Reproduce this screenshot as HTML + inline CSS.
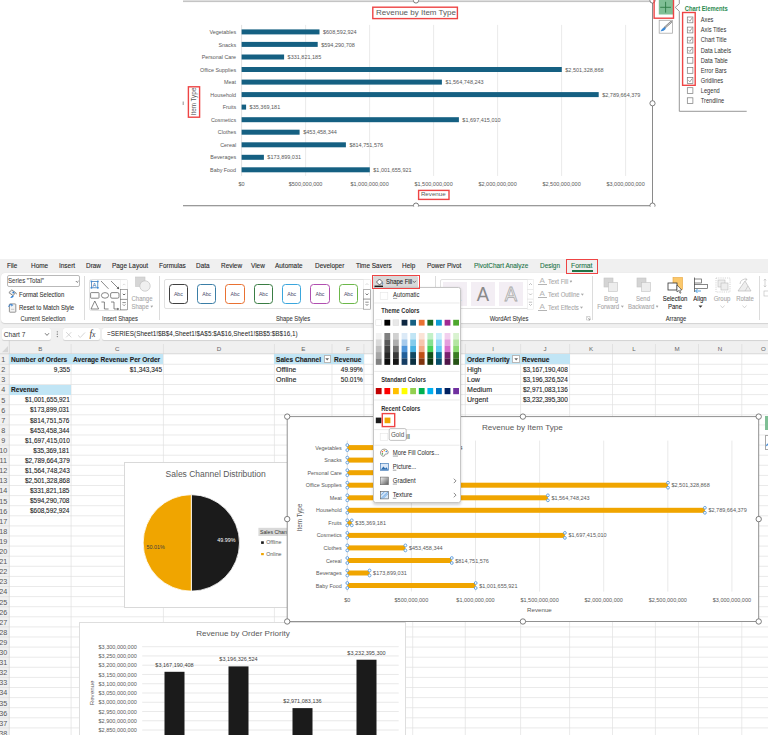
<!DOCTYPE html>
<html><head><meta charset="utf-8"><title>Excel chart formatting</title>
<style>
*{box-sizing:border-box}
html,body{margin:0;padding:0}
body{width:768px;height:735px;overflow:hidden;position:relative;background:#fff;font-family:"Liberation Sans", Arial, sans-serif;color:#262626}
.a{position:absolute;white-space:nowrap}
svg text{font-family:"Liberation Sans", Arial, sans-serif}
.cl{font-size:5.5px;fill:#595959}
.tab{font-size:7.3px;line-height:8px;color:#262626;-webkit-text-stroke:0.1px currentColor;transform:scaleX(0.88);transform-origin:0 50%}
.rb{font-size:6.8px;line-height:7px;color:#333;-webkit-text-stroke:0.08px currentColor;transform:scaleX(0.88);transform-origin:0 50%}
.ctr{transform-origin:50% 50%}
.gl{font-size:6.6px;line-height:7px;color:#383838;-webkit-text-stroke:0.08px currentColor;transform:scaleX(0.88);transform-origin:50% 50%}
.dis{color:#a6a6a6}
.chev{display:inline-block;width:2.1px;height:2.1px;border-right:0.7px solid currentColor;border-bottom:0.7px solid currentColor;transform:rotate(45deg);margin-left:2.2px;vertical-align:1.8px}
.cell{font-size:7.6px;line-height:10.1px;color:#1e1e1e;padding-top:0.8px;-webkit-text-stroke:0.12px #1e1e1e}
.mi{font-size:6.6px;fill:#262626}
.mh{font-size:6.4px;font-weight:bold;fill:#303030}
</style></head><body>

<svg class="a" style="left:0;top:0" width="768" height="259" viewBox="0 0 768 259">
<line x1="305.6" y1="24.9" x2="305.6" y2="175.9" stroke="#e3e3e3" stroke-width="0.8"/>
<line x1="369.6" y1="24.9" x2="369.6" y2="175.9" stroke="#e3e3e3" stroke-width="0.8"/>
<line x1="433.6" y1="24.9" x2="433.6" y2="175.9" stroke="#e3e3e3" stroke-width="0.8"/>
<line x1="497.6" y1="24.9" x2="497.6" y2="175.9" stroke="#e3e3e3" stroke-width="0.8"/>
<line x1="561.6" y1="24.9" x2="561.6" y2="175.9" stroke="#e3e3e3" stroke-width="0.8"/>
<line x1="625.6" y1="24.9" x2="625.6" y2="175.9" stroke="#e3e3e3" stroke-width="0.8"/>
<line x1="241.6" y1="24.9" x2="241.6" y2="175.9" stroke="#d9d9d9" stroke-width="0.8"/>
<rect x="241.6" y="29.4" width="77.9" height="5" fill="#156082"/>
<text transform="scale(0.9,1)" x="262.33" y="34.00" text-anchor="end" style="font-size:6px;fill:#595959">Vegetables</text>
<text transform="scale(0.92,1)" x="351.09" y="34.00" style="font-size:6px;fill:#595959">$608,592,924</text>
<rect x="241.6" y="41.9" width="76.1" height="5" fill="#156082"/>
<text transform="scale(0.9,1)" x="262.33" y="46.54" text-anchor="end" style="font-size:6px;fill:#595959">Snacks</text>
<text transform="scale(0.92,1)" x="349.10" y="46.54" style="font-size:6px;fill:#595959">$594,290,708</text>
<rect x="241.6" y="54.5" width="42.5" height="5" fill="#156082"/>
<text transform="scale(0.9,1)" x="262.33" y="59.08" text-anchor="end" style="font-size:6px;fill:#595959">Personal Care</text>
<text transform="scale(0.92,1)" x="312.58" y="59.08" style="font-size:6px;fill:#595959">$331,821,185</text>
<rect x="241.6" y="67.0" width="320.2" height="5" fill="#156082"/>
<text transform="scale(0.9,1)" x="262.33" y="71.62" text-anchor="end" style="font-size:6px;fill:#595959">Office Supplies</text>
<text transform="scale(0.92,1)" x="614.42" y="71.62" style="font-size:6px;fill:#595959">$2,501,328,868</text>
<rect x="241.6" y="79.6" width="200.3" height="5" fill="#156082"/>
<text transform="scale(0.9,1)" x="262.33" y="84.16" text-anchor="end" style="font-size:6px;fill:#595959">Meat</text>
<text transform="scale(0.92,1)" x="484.12" y="84.16" style="font-size:6px;fill:#595959">$1,564,748,243</text>
<rect x="241.6" y="92.1" width="357.1" height="5" fill="#156082"/>
<text transform="scale(0.9,1)" x="262.33" y="96.70" text-anchor="end" style="font-size:6px;fill:#595959">Household</text>
<text transform="scale(0.92,1)" x="654.54" y="96.70" style="font-size:6px;fill:#595959">$2,789,664,379</text>
<rect x="241.6" y="104.6" width="4.5" height="5" fill="#156082"/>
<text transform="scale(0.9,1)" x="262.33" y="109.24" text-anchor="end" style="font-size:6px;fill:#595959">Fruits</text>
<text transform="scale(0.92,1)" x="271.33" y="109.24" style="font-size:6px;fill:#595959">$35,369,181</text>
<rect x="241.6" y="117.2" width="217.3" height="5" fill="#156082"/>
<text transform="scale(0.9,1)" x="262.33" y="121.78" text-anchor="end" style="font-size:6px;fill:#595959">Cosmetics</text>
<text transform="scale(0.92,1)" x="502.58" y="121.78" style="font-size:6px;fill:#595959">$1,697,415,010</text>
<rect x="241.6" y="129.7" width="58.0" height="5" fill="#156082"/>
<text transform="scale(0.9,1)" x="262.33" y="134.32" text-anchor="end" style="font-size:6px;fill:#595959">Clothes</text>
<text transform="scale(0.92,1)" x="329.50" y="134.32" style="font-size:6px;fill:#595959">$453,458,344</text>
<rect x="241.6" y="142.3" width="104.3" height="5" fill="#156082"/>
<text transform="scale(0.9,1)" x="262.33" y="146.86" text-anchor="end" style="font-size:6px;fill:#595959">Cereal</text>
<text transform="scale(0.92,1)" x="379.77" y="146.86" style="font-size:6px;fill:#595959">$814,751,576</text>
<rect x="241.6" y="154.8" width="22.3" height="5" fill="#156082"/>
<text transform="scale(0.9,1)" x="262.33" y="159.40" text-anchor="end" style="font-size:6px;fill:#595959">Beverages</text>
<text transform="scale(0.92,1)" x="290.61" y="159.40" style="font-size:6px;fill:#595959">$173,899,031</text>
<rect x="241.6" y="167.3" width="128.2" height="5" fill="#156082"/>
<text transform="scale(0.9,1)" x="262.33" y="171.94" text-anchor="end" style="font-size:6px;fill:#595959">Baby Food</text>
<text transform="scale(0.92,1)" x="405.77" y="171.94" style="font-size:6px;fill:#595959">$1,001,655,921</text>
<text transform="scale(0.92,1)" x="262.61" y="185.90" text-anchor="middle" style="font-size:6px;fill:#595959">$0</text>
<text transform="scale(0.92,1)" x="332.17" y="185.90" text-anchor="middle" style="font-size:6px;fill:#595959">$500,000,000</text>
<text transform="scale(0.92,1)" x="401.74" y="185.90" text-anchor="middle" style="font-size:6px;fill:#595959">$1,000,000,000</text>
<text transform="scale(0.92,1)" x="471.30" y="185.90" text-anchor="middle" style="font-size:6px;fill:#595959">$1,500,000,000</text>
<text transform="scale(0.92,1)" x="540.87" y="185.90" text-anchor="middle" style="font-size:6px;fill:#595959">$2,000,000,000</text>
<text transform="scale(0.92,1)" x="610.43" y="185.90" text-anchor="middle" style="font-size:6px;fill:#595959">$2,500,000,000</text>
<text transform="scale(0.92,1)" x="680.00" y="185.90" text-anchor="middle" style="font-size:6px;fill:#595959">$3,000,000,000</text>
<rect x="183" y="0" width="469.5" height="1.3" fill="#dedede"/>
<line x1="183" y1="1.6" x2="652.5" y2="1.6" stroke="#a8a8a8" stroke-width="0.7"/>
<line x1="652.5" y1="0" x2="652.5" y2="206" stroke="#8a8a8a" stroke-width="1"/>
<line x1="183" y1="205.8" x2="652.5" y2="205.8" stroke="#9a9a9a" stroke-width="1.6"/>
<line x1="183.2" y1="101.5" x2="183.2" y2="105" stroke="#777" stroke-width="0.8"/>
<circle cx="416" cy="0.5" r="2.6" fill="#fff" stroke="#6e6e6e" stroke-width="0.9"/>
<circle cx="652.5" cy="0.5" r="2.6" fill="#fff" stroke="#6e6e6e" stroke-width="0.9"/>
<circle cx="652.5" cy="103.3" r="2.6" fill="#fff" stroke="#6e6e6e" stroke-width="0.9"/>
<circle cx="416" cy="205.6" r="2.6" fill="#fff" stroke="#6e6e6e" stroke-width="0.9"/>
<circle cx="652.5" cy="205.6" r="2.6" fill="#fff" stroke="#6e6e6e" stroke-width="0.9"/>
<rect x="0" y="206.6" width="768" height="53" fill="#fff"/>
<text x="416" y="15.2" text-anchor="middle" style="font-size:8px;fill:#595959">Revenue by Item Type</text>
<rect x="372.8" y="7.2" width="84.6" height="11.4" fill="none" stroke="#ee4444" stroke-width="1.4"/>
<text x="433.3" y="196.4" text-anchor="middle" style="font-size:6.2px;fill:#595959">Revenue</text>
<rect x="418.6" y="190.4" width="30.4" height="9" fill="none" stroke="#ee4444" stroke-width="1.4"/>
<text transform="translate(196.2,101.6) rotate(-90)" text-anchor="middle" style="font-size:6.3px;fill:#595959">Item Type</text>
<rect x="188.4" y="86.8" width="11.2" height="30.4" fill="none" stroke="#ee4444" stroke-width="1.4"/>
</svg>
<svg class="a" style="left:640px;top:0" width="128" height="120" viewBox="640 0 128 120">
<rect x="658.8" y="-1" width="14.3" height="15.5" fill="#7fbf95"/>
<line x1="665.6" y1="1.8" x2="665.6" y2="12.6" stroke="#2d7a45" stroke-width="0.9"/>
<line x1="660.2" y1="7.3" x2="671" y2="7.3" stroke="#2d7a45" stroke-width="0.9"/>
<rect x="654.1" y="-1" width="19.4" height="19.2" fill="none" stroke="#ee4444" stroke-width="1.4"/>
<rect x="659.2" y="20.3" width="13.2" height="12.9" fill="#fff" stroke="#a8a8a8" stroke-width="0.8"/>
<line x1="671" y1="22" x2="664.6" y2="27.8" stroke="#7a7a7a" stroke-width="1.9" stroke-linecap="round"/>
<line x1="670.8" y1="22.2" x2="664.8" y2="27.6" stroke="#f4f4f4" stroke-width="0.7"/>
<path d="M665.4 27.2 Q662.6 27.4 661.6 29.6 Q661 30.8 660.4 31.2 Q663.6 31.6 665.2 29.6 Q666 28.6 665.4 27.2 Z" fill="#3c8ad8"/>
<path d="M679.3 -1 V3.8 L675.2 7.4 L679.3 11.2 V111.3 H746.7" fill="none" stroke="#8c8c8c" stroke-width="0.9"/>
<text transform="scale(0.93,1)" x="736.34" y="10.8" style="font-size:6.3px;font-weight:bold;fill:#2b8a4e">Chart Elements</text>
<rect x="687.3" y="17.0" width="5.6" height="5.8" fill="#fff" stroke="#7a7a7a" stroke-width="0.7"/>
<path d="M688.4 19.6 L689.9 21.2 L692 18.1" fill="none" stroke="#777" stroke-width="0.7"/>
<text transform="scale(0.86,1)" x="814.88" y="22.30" style="font-size:6.6px;fill:#333">Axes</text>
<rect x="687.3" y="27.1" width="5.6" height="5.8" fill="#fff" stroke="#7a7a7a" stroke-width="0.7"/>
<path d="M688.4 29.7 L689.9 31.3 L692 28.2" fill="none" stroke="#777" stroke-width="0.7"/>
<text transform="scale(0.86,1)" x="814.88" y="32.40" style="font-size:6.6px;fill:#333">Axis Titles</text>
<rect x="687.3" y="37.2" width="5.6" height="5.8" fill="#fff" stroke="#7a7a7a" stroke-width="0.7"/>
<path d="M688.4 39.8 L689.9 41.4 L692 38.3" fill="none" stroke="#777" stroke-width="0.7"/>
<text transform="scale(0.86,1)" x="814.88" y="42.50" style="font-size:6.6px;fill:#333">Chart Title</text>
<rect x="687.3" y="47.3" width="5.6" height="5.8" fill="#fff" stroke="#7a7a7a" stroke-width="0.7"/>
<path d="M688.4 49.9 L689.9 51.5 L692 48.4" fill="none" stroke="#777" stroke-width="0.7"/>
<text transform="scale(0.86,1)" x="814.88" y="52.60" style="font-size:6.6px;fill:#333">Data Labels</text>
<rect x="687.3" y="57.4" width="5.6" height="5.8" fill="#fff" stroke="#7a7a7a" stroke-width="0.7"/>
<text transform="scale(0.86,1)" x="814.88" y="62.70" style="font-size:6.6px;fill:#333">Data Table</text>
<rect x="687.3" y="67.5" width="5.6" height="5.8" fill="#fff" stroke="#7a7a7a" stroke-width="0.7"/>
<text transform="scale(0.86,1)" x="814.88" y="72.80" style="font-size:6.6px;fill:#333">Error Bars</text>
<rect x="687.3" y="77.6" width="5.6" height="5.8" fill="#fff" stroke="#7a7a7a" stroke-width="0.7"/>
<path d="M688.4 80.2 L689.9 81.8 L692 78.7" fill="none" stroke="#777" stroke-width="0.7"/>
<text transform="scale(0.86,1)" x="814.88" y="82.90" style="font-size:6.6px;fill:#333">Gridlines</text>
<rect x="687.3" y="87.7" width="5.6" height="5.8" fill="#fff" stroke="#7a7a7a" stroke-width="0.7"/>
<text transform="scale(0.86,1)" x="814.88" y="93.00" style="font-size:6.6px;fill:#333">Legend</text>
<rect x="687.3" y="97.8" width="5.6" height="5.8" fill="#fff" stroke="#7a7a7a" stroke-width="0.7"/>
<text transform="scale(0.86,1)" x="814.88" y="103.10" style="font-size:6.6px;fill:#333">Trendline</text>
<rect x="682.6" y="12.5" width="12.6" height="72.8" fill="none" stroke="#ee4444" stroke-width="1.4"/>
</svg>
<div class="a" style="left:0;top:259px;width:768px;height:476px;background:#f0f0f0"></div>
<div class="a tab" style="left:7.3px;top:262px">File</div>
<div class="a tab" style="left:30.7px;top:262px">Home</div>
<div class="a tab" style="left:58.9px;top:262px">Insert</div>
<div class="a tab" style="left:86px;top:262px">Draw</div>
<div class="a tab" style="left:112px;top:262px">Page Layout</div>
<div class="a tab" style="left:159.4px;top:262px">Formulas</div>
<div class="a tab" style="left:196.3px;top:262px">Data</div>
<div class="a tab" style="left:220.6px;top:262px">Review</div>
<div class="a tab" style="left:251px;top:262px">View</div>
<div class="a tab" style="left:275.3px;top:262px">Automate</div>
<div class="a tab" style="left:315.3px;top:262px">Developer</div>
<div class="a tab" style="left:356px;top:262px">Time Savers</div>
<div class="a tab" style="left:402.3px;top:262px">Help</div>
<div class="a tab" style="left:426.6px;top:262px">Power Pivot</div>
<div class="a tab" style="left:474px;top:262px;color:#217346">PivotChart Analyze</div>
<div class="a tab" style="left:539.8px;top:262px;color:#217346">Design</div>
<div class="a tab" style="left:571px;top:262px;color:#217346;font-size:7.7px">Format</div>
<div class="a" style="left:571.5px;top:270.3px;width:21px;height:1.3px;background:#217346"></div>
<div class="a" style="left:1.2px;top:273px;width:780px;height:49.8px;background:#fff;border-radius:4px;box-shadow:0 0.5px 1px rgba(0,0,0,0.12)"></div>
<div class="a" style="left:83.5px;top:276px;width:0.8px;height:44px;background:#dcdcdc"></div>
<div class="a" style="left:158.6px;top:276px;width:0.8px;height:44px;background:#dcdcdc"></div>
<div class="a" style="left:434.5px;top:276px;width:0.8px;height:44px;background:#dcdcdc"></div>
<div class="a" style="left:591.8px;top:276px;width:0.8px;height:44px;background:#dcdcdc"></div>
<div class="a" style="left:759.2px;top:276px;width:0.8px;height:44px;background:#dcdcdc"></div>
<div class="a gl" style="left:3.3999999999999986px;width:80px;text-align:center;top:315.2px">Current Selection</div>
<div class="a gl" style="left:80.3px;width:80px;text-align:center;top:315.2px">Insert Shapes</div>
<div class="a gl" style="left:252.89999999999998px;width:80px;text-align:center;top:315.2px">Shape Styles</div>
<div class="a gl" style="left:468.8px;width:80px;text-align:center;top:315.2px">WordArt Styles</div>
<div class="a gl" style="left:635.8px;width:80px;text-align:center;top:315.2px">Arrange</div>
<div class="a" style="left:6.8px;top:275.4px;width:72.9px;height:11.6px;border:0.8px solid #b9b9b9;border-radius:2px;background:#fff"></div>
<div class="a rb" style="left:8px;top:277.4px;color:#444;font-size:6.9px">Series "Total"</div>
<svg class="a" style="left:74.8px;top:279.6px" width="5" height="4"><path d="M0.8 1 L2.2 2.4 L3.6 1" fill="none" stroke="#444" stroke-width="0.7"/></svg>
<svg class="a" style="left:8px;top:289px" width="10" height="10" viewBox="0 0 10 10"><path d="M0.9 3.6 L3.8 0.9 L7.6 3.6 L5 6.6 Z" fill="#eee" stroke="#7a7a7a" stroke-width="0.9"/><path d="M7.4 3.8 L9 5.2" stroke="#8a8a8a" stroke-width="0.9"/><circle cx="5.4" cy="3.5" r="1" fill="#2b7cd3"/><path d="M2.2 8.9 Q3.6 6.4 6 6.5 Q5.6 9.3 2.2 8.9 Z" fill="#2b7cd3"/></svg>
<div class="a rb" style="left:18.6px;top:291.4px">Format Selection</div>
<svg class="a" style="left:8px;top:302.5px" width="9" height="10" viewBox="0 0 9 10"><rect x="1.4" y="0.9" width="6.4" height="8.3" rx="0.6" fill="#f3f3f3" stroke="#7a7a7a" stroke-width="0.8"/><path d="M3 6.3 H6.2" stroke="#999" stroke-width="0.5"/><path d="M0.7 3.8 A2.1 2.1 0 0 1 4.2 2.2" fill="none" stroke="#2b7cd3" stroke-width="1"/><path d="M3.4 0.9 L4.6 2.3 L3 3" fill="none" stroke="#2b7cd3" stroke-width="0.8"/></svg>
<div class="a rb" style="left:18.6px;top:304px">Reset to Match Style</div>
<div class="a" style="left:88.6px;top:279.1px;width:39.4px;height:31.6px;border:0.7px solid #e1e1e1;border-radius:2.5px;background:#fff"></div>
<svg class="a" style="left:89px;top:279px" width="40" height="32" viewBox="0 0 40 32">
<rect x="2.4" y="2.4" width="6.4" height="6.4" fill="none" stroke="#2b6cb0" stroke-width="0.7"/>
<text x="3.5" y="7.8" style="font-size:5.6px;fill:#2b6cb0">A</text>
<rect x="1.6" y="1.6" width="1.6" height="1.6" fill="#3b8ad8"/><rect x="8" y="1.6" width="1.6" height="1.6" fill="#3b8ad8"/><rect x="1.6" y="8" width="1.6" height="1.6" fill="#3b8ad8"/><rect x="8" y="8" width="1.6" height="1.6" fill="#3b8ad8"/>
<line x1="12" y1="2" x2="19.5" y2="9.8" stroke="#555" stroke-width="0.7"/>
<line x1="22" y1="2" x2="29.6" y2="9.6" stroke="#555" stroke-width="0.7"/><path d="M30.2 10.2 L27.6 9.6 L29.6 7.6 Z" fill="#555"/>
<rect x="1.6" y="13.6" width="8.4" height="5.6" rx="0.6" fill="none" stroke="#555" stroke-width="0.7"/>
<ellipse cx="16" cy="16.4" rx="3.6" ry="2.8" fill="none" stroke="#555" stroke-width="0.7"/>
<rect x="21.6" y="13.6" width="8.4" height="5.6" rx="1.4" fill="none" stroke="#555" stroke-width="0.7"/>
<path d="M2 30 L5.8 22 L9.6 30 Z" fill="none" stroke="#555" stroke-width="0.7"/>
<path d="M12.4 23 H15.4 V30 H19.6" fill="none" stroke="#555" stroke-width="0.7"/>
<path d="M22 23 H25 V30 H29" fill="none" stroke="#555" stroke-width="0.7"/><path d="M30.4 30 L28.4 28.8 V31.2 Z" fill="#555"/>
<rect x="31.6" y="0.8" width="7" height="9.6" fill="#fff" stroke="#e6e6e6" stroke-width="0.5"/>
<path d="M33.8 6.2 L35.1 4.9 L36.4 6.2" fill="none" stroke="#c8c8c8" stroke-width="0.6"/>
<rect x="31.6" y="10.6" width="7" height="9.6" fill="#fff" stroke="#777" stroke-width="0.6"/>
<path d="M33.9 14.8 L35.1 16 L36.3 14.8" fill="none" stroke="#333" stroke-width="0.8"/>
<rect x="31.6" y="20.4" width="7" height="10.4" fill="#fff" stroke="#777" stroke-width="0.6"/>
<path d="M33.4 23.6 H36.8 M33.8 25.4 L35.1 26.7 L36.4 25.4" fill="none" stroke="#444" stroke-width="0.6"/>
</svg>
<svg class="a" style="left:134px;top:276px" width="18" height="17" viewBox="0 0 18 17"><rect x="1.5" y="1" width="9.5" height="9.5" fill="#d6d6d6" stroke="#c6c6c6" stroke-width="0.6"/><circle cx="11" cy="10" r="5.2" fill="#f0f0f0" stroke="#c2c2c2" stroke-width="0.7"/></svg>
<div class="a rb dis ctr" style="left:122px;width:40px;text-align:center;top:294.6px">Change</div>
<div class="a rb dis ctr" style="left:122px;width:40px;text-align:center;top:302.6px">Shape<span class="chev"></span></div>
<div class="a" style="left:163.7px;top:279.3px;width:207px;height:30px;border:0.7px solid #e1e1e1;border-radius:2px;background:#fff"></div>
<div class="a" style="left:168.6px;top:284.4px;width:19.6px;height:19.2px;border:1.8px solid #404040;border-radius:3.5px;background:#fff"></div>
<div class="a" style="left:168.6px;width:19.6px;text-align:center;top:290.8px;font-size:5.2px;line-height:6px;color:#4a4a6a">Abc</div>
<div class="a" style="left:196.9px;top:284.4px;width:19.6px;height:19.2px;border:1.8px solid #3b7ea6;border-radius:3.5px;background:#fff"></div>
<div class="a" style="left:196.9px;width:19.6px;text-align:center;top:290.8px;font-size:5.2px;line-height:6px;color:#4a4a6a">Abc</div>
<div class="a" style="left:225.3px;top:284.4px;width:19.6px;height:19.2px;border:1.8px solid #e97132;border-radius:3.5px;background:#fff"></div>
<div class="a" style="left:225.3px;width:19.6px;text-align:center;top:290.8px;font-size:5.2px;line-height:6px;color:#4a4a6a">Abc</div>
<div class="a" style="left:253.6px;top:284.4px;width:19.6px;height:19.2px;border:1.8px solid #3a7d44;border-radius:3.5px;background:#fff"></div>
<div class="a" style="left:253.6px;width:19.6px;text-align:center;top:290.8px;font-size:5.2px;line-height:6px;color:#4a4a6a">Abc</div>
<div class="a" style="left:281.9px;top:284.4px;width:19.6px;height:19.2px;border:1.8px solid #3aa6dd;border-radius:3.5px;background:#fff"></div>
<div class="a" style="left:281.9px;width:19.6px;text-align:center;top:290.8px;font-size:5.2px;line-height:6px;color:#4a4a6a">Abc</div>
<div class="a" style="left:310.2px;top:284.4px;width:19.6px;height:19.2px;border:1.8px solid #b14fb0;border-radius:3.5px;background:#fff"></div>
<div class="a" style="left:310.2px;width:19.6px;text-align:center;top:290.8px;font-size:5.2px;line-height:6px;color:#4a4a6a">Abc</div>
<div class="a" style="left:338.6px;top:284.4px;width:19.6px;height:19.2px;border:1.8px solid #6cb74a;border-radius:3.5px;background:#fff"></div>
<div class="a" style="left:338.6px;width:19.6px;text-align:center;top:290.8px;font-size:5.2px;line-height:6px;color:#4a4a6a">Abc</div>
<svg class="a" style="left:362.5px;top:279px" width="9" height="32" viewBox="0 0 9 32">
<rect x="0.5" y="0.5" width="7" height="10" fill="#fff" stroke="#e3e3e3" stroke-width="0.5"/>
<path d="M2.5 6 L4 4.5 L5.5 6" fill="none" stroke="#c4c4c4" stroke-width="0.6"/>
<rect x="0.5" y="10.7" width="7" height="9.3" fill="#fff" stroke="#888" stroke-width="0.6"/>
<path d="M2.6 14.5 L4 16 L5.4 14.5" fill="none" stroke="#444" stroke-width="0.7"/>
<rect x="0.5" y="20.2" width="7" height="10" fill="#fff" stroke="#888" stroke-width="0.6"/>
<path d="M2.3 23.2 H5.7 M2.6 25 L4 26.5 L5.4 25" fill="none" stroke="#444" stroke-width="0.6"/>
</svg>
<div class="a" style="left:373px;top:276px;width:45.2px;height:11.6px;background:#d9d9d9;border-radius:1.5px"></div>
<svg class="a" style="left:374px;top:276.5px" width="10" height="11" viewBox="0 0 10 11"><path d="M2.5 5 L5.5 2 L8.5 5 L5.5 8 Z" fill="#fff" stroke="#333" stroke-width="0.7"/><path d="M8.2 5.5 Q9.2 7 8.4 7.6" fill="none" stroke="#2b6cb0" stroke-width="0.8"/><rect x="0.5" y="8.6" width="8.5" height="2" fill="#1a1a1a"/></svg>
<div class="a rb" style="left:385.5px;top:278.2px;color:#222;font-size:6.7px">Shape Fill</div>
<svg class="a" style="left:412px;top:280px" width="5" height="4"><path d="M0.6 0.8 L2.3 2.5 L4 0.8" fill="none" stroke="#444" stroke-width="0.7"/></svg>
<div class="a" style="left:439.5px;top:279.3px;width:93.5px;height:30px;border:0.7px solid #e1e1e1;border-radius:2px;background:#fff"></div>
<div class="a" style="left:443px;top:281.7px;width:23.8px;height:24.1px;background:#f3eef4"></div>
<div class="a" style="left:443px;width:23.8px;text-align:center;top:281.6px;font-size:21px;line-height:24px;color:#8a8a8a;transform:scaleX(0.88)">A</div>
<div class="a" style="left:471px;top:281.7px;width:23.8px;height:24.1px;background:#f3eef4"></div>
<div class="a" style="left:471px;width:23.8px;text-align:center;top:281.6px;font-size:21px;line-height:24px;color:#8a8a8a;transform:scaleX(0.88)">A</div>
<div class="a" style="left:499px;top:281.7px;width:23.8px;height:24.1px;background:#f3eef4"></div>
<div class="a" style="left:499px;width:23.8px;text-align:center;top:281.6px;font-size:21px;line-height:24px;color:#ececec;-webkit-text-stroke:0.8px #a8a8a8;transform:scaleX(0.88)">A</div>
<svg class="a" style="left:526.5px;top:279px" width="8" height="32" viewBox="0 0 8 32">
<rect x="0.5" y="0.5" width="6" height="10" fill="#fff" stroke="#e3e3e3" stroke-width="0.5"/>
<path d="M2 6 L3.5 4.5 L5 6" fill="none" stroke="#999" stroke-width="0.6"/>
<rect x="0.5" y="10.7" width="6" height="9.3" fill="#fff" stroke="#e3e3e3" stroke-width="0.5"/>
<path d="M2 14.5 L3.5 16 L5 14.5" fill="none" stroke="#999" stroke-width="0.6"/>
<rect x="0.5" y="20.2" width="6" height="10" fill="#fff" stroke="#e3e3e3" stroke-width="0.5"/>
<path d="M1.8 23.2 H5.2 M2 25 L3.5 26.5 L5 25" fill="none" stroke="#999" stroke-width="0.6"/>
</svg>
<div class="a" style="left:538px;top:276.4px;width:8.5px;text-align:center;font-size:8px;line-height:9px;color:#b4b4b4">A</div>
<div class="a" style="left:538px;top:284.0px;width:8.5px;height:1.3px;background:#b4b4b4"></div>
<div class="a rb dis" style="left:548.4px;top:278.1px">Text Fill<span class="chev"></span></div>
<div class="a" style="left:538px;top:289.4px;width:8.5px;text-align:center;font-size:8px;line-height:9px;color:#b4b4b4">A</div>
<div class="a" style="left:538px;top:297.0px;width:8.5px;height:1.3px;background:#b4b4b4"></div>
<div class="a rb dis" style="left:548.4px;top:291.1px">Text Outline<span class="chev"></span></div>
<div class="a" style="left:538px;top:302.4px;width:8.5px;text-align:center;font-size:8px;line-height:9px;color:#b4b4b4">A</div>
<div class="a" style="left:538px;top:310.0px;width:8.5px;height:1.3px;background:#b4b4b4"></div>
<div class="a rb dis" style="left:548.4px;top:304.1px">Text Effects<span class="chev"></span></div>
<svg class="a" style="left:585.5px;top:316px" width="5" height="5"><path d="M0.5 0.5 H4 V4 H0.5 Z" fill="none" stroke="#aaa" stroke-width="0.5"/><path d="M1.5 1.5 L4 4 M2.5 4 H4 V2.5" fill="none" stroke="#888" stroke-width="0.5"/></svg>
<svg class="a" style="left:602.5px;top:277px" width="16" height="16" viewBox="0 0 16 16"><rect x="1" y="1" width="9" height="9" fill="#d4d4d4" stroke="#c3c3c3" stroke-width="0.6"/><rect x="5.5" y="5.5" width="9" height="9" fill="#ededed" stroke="#c3c3c3" stroke-width="0.6"/></svg>
<svg class="a" style="left:635.5px;top:277px" width="16" height="16" viewBox="0 0 16 16"><rect x="1" y="1" width="9" height="9" fill="#d4d4d4" stroke="#c3c3c3" stroke-width="0.6"/><rect x="5.5" y="5.5" width="9" height="9" fill="#ededed" stroke="#c3c3c3" stroke-width="0.6"/></svg>
<div class="a rb dis ctr" style="left:590.9px;width:40px;text-align:center;top:294.8px">Bring</div>
<div class="a rb dis ctr" style="left:590.4px;width:40px;text-align:center;top:302.7px">Forward<span class="chev"></span></div>
<div class="a rb dis ctr" style="left:623.4px;width:40px;text-align:center;top:294.8px">Send</div>
<div class="a rb dis ctr" style="left:623.4px;width:40px;text-align:center;top:302.7px">Backward<span class="chev"></span></div>
<svg class="a" style="left:666.5px;top:276.5px" width="17" height="17" viewBox="0 0 17 17"><rect x="6" y="0.5" width="9.5" height="12" fill="#fbc86b" stroke="#e8a33a" stroke-width="0.6"/><rect x="1" y="6" width="9" height="7" fill="#fff" stroke="#333" stroke-width="0.8"/><path d="M10 8 L10 15 L11.6 13.6 L13 16.3 L14 15.8 L12.7 13.2 L14.8 13 Z" fill="#fff" stroke="#333" stroke-width="0.6"/></svg>
<div class="a rb ctr" style="left:654.7px;width:40px;text-align:center;top:294.8px;color:#222">Selection</div>
<div class="a rb ctr" style="left:654.7px;width:40px;text-align:center;top:302.7px;color:#222">Pane</div>
<svg class="a" style="left:692.5px;top:276.5px" width="17" height="17" viewBox="0 0 17 17"><line x1="1.5" y1="0.5" x2="1.5" y2="15" stroke="#555" stroke-width="0.8"/><rect x="1.5" y="2" width="7" height="4" fill="#fff" stroke="#555" stroke-width="0.7"/><rect x="1.5" y="7.5" width="13" height="4" fill="#fff" stroke="#555" stroke-width="0.7"/><path d="M8 14 H2.5 M4.5 12 L2.5 14 L4.5 16" fill="none" stroke="#2b8ad8" stroke-width="0.8"/></svg>
<div class="a rb ctr" style="left:680.2px;width:40px;text-align:center;top:294.8px;color:#222">Align</div>
<svg class="a" style="left:698px;top:304.5px" width="5" height="4"><path d="M0.5 0.5 L2.5 2.8 L4.5 0.5 Z" fill="#333"/></svg>
<svg class="a" style="left:714.5px;top:276.5px" width="17" height="17" viewBox="0 0 17 17"><rect x="1" y="1" width="14" height="14" fill="none" stroke="#bbb" stroke-width="0.6" stroke-dasharray="1.2 1"/><rect x="3" y="3" width="7" height="7" fill="#eee" stroke="#bbb" stroke-width="0.6"/><rect x="6" y="6" width="7" height="7" fill="#eee" stroke="#bbb" stroke-width="0.6"/></svg>
<div class="a rb dis ctr" style="left:702.3px;width:40px;text-align:center;top:294.8px">Group</div>
<svg class="a" style="left:720px;top:304.5px" width="5" height="4"><path d="M0.5 0.5 L2.5 2.8 L4.5 0.5" fill="none" stroke="#bbb" stroke-width="0.6"/></svg>
<svg class="a" style="left:736px;top:276.5px" width="17" height="17" viewBox="0 0 17 17"><path d="M2 14 L9 4 L15 14 Z" fill="#eee" stroke="#bbb" stroke-width="0.7"/><path d="M9 14 L12 9" stroke="#bbb" stroke-width="0.6"/><path d="M4 7 A5 5 0 0 1 11 2.5 M11 2.5 L9.5 1.3 M11 2.5 L9.5 4" fill="none" stroke="#bbb" stroke-width="0.7"/></svg>
<div class="a rb dis ctr" style="left:724.8px;width:40px;text-align:center;top:294.8px">Rotate</div>
<svg class="a" style="left:742.3px;top:304.5px" width="5" height="4"><path d="M0.5 0.5 L2.5 2.8 L4.5 0.5" fill="none" stroke="#bbb" stroke-width="0.6"/></svg>
<svg class="a" style="left:763px;top:278px" width="6" height="20" viewBox="0 0 6 20"><path d="M2 1 V9 M0.8 2.5 L2 1 L3.2 2.5 M0.8 7.5 L2 9 L3.2 7.5" fill="none" stroke="#bbb" stroke-width="0.6"/><rect x="1" y="13" width="5" height="5" fill="none" stroke="#bbb" stroke-width="0.6"/></svg>
<div class="a" style="left:1.7px;top:328.4px;width:49.3px;height:11.5px;background:#fff;border-radius:2px;box-shadow:0 0.4px 0.8px rgba(0,0,0,0.12)"></div>
<div class="a" style="left:3.8px;top:330.8px;font-size:6.6px;line-height:8px;color:#333">Chart 7</div>
<svg class="a" style="left:43.5px;top:332px" width="6" height="5"><path d="M1 1.2 L3 3.4 L5 1.2" fill="none" stroke="#555" stroke-width="0.8"/></svg>
<svg class="a" style="left:56px;top:330px" width="3" height="9"><circle cx="1.3" cy="1.8" r="0.6" fill="#666"/><circle cx="1.3" cy="4.2" r="0.6" fill="#666"/><circle cx="1.3" cy="6.6" r="0.6" fill="#666"/></svg>
<div class="a" style="left:62.5px;top:328.4px;width:37.1px;height:11.5px;background:#fff;border-radius:2px;box-shadow:0 0.4px 0.8px rgba(0,0,0,0.12)"></div>
<svg class="a" style="left:65px;top:330.5px" width="8" height="8"><path d="M1.2 1.2 L6.3 6.3 M6.3 1.2 L1.2 6.3" stroke="#c4c4c4" stroke-width="0.7"/></svg>
<svg class="a" style="left:76.5px;top:330.5px" width="9" height="8"><path d="M1 4.3 L3.3 6.5 L8 1.5" fill="none" stroke="#c4c4c4" stroke-width="0.7"/></svg>
<div class="a" style="left:89.6px;top:328.6px;font-family:'Liberation Serif',serif;font-style:italic;font-size:9.4px;line-height:10px;color:#333;letter-spacing:-0.3px">f<span style="font-size:7.6px">x</span></div>
<div class="a" style="left:102px;top:328.4px;width:680px;height:11.5px;background:#fff;border-radius:2px;box-shadow:0 0.4px 0.8px rgba(0,0,0,0.12)"></div>
<div class="a" style="left:107.3px;top:330.4px;font-size:7.3px;line-height:8px;color:#222;transform:scaleX(0.871);transform-origin:0 50%">=SERIES(Sheet1!$B$4,Sheet1!$A$5:$A$16,Sheet1!$B$5:$B$16,1)</div>
<div class="a" style="left:9.3px;top:354.2px;width:760px;height:380.8px;background:#fff"></div>
<svg class="a" style="left:0;top:340px" width="768" height="395" viewBox="0 340 768 395">
<line x1="9.3" y1="364.30" x2="768" y2="364.30" stroke="#e1e1e1" stroke-width="0.7"/>
<line x1="0" y1="364.30" x2="9.3" y2="364.30" stroke="#d8d8d8" stroke-width="0.6"/>
<text x="3.2" y="362.10" text-anchor="middle" style="font-size:7.2px;fill:#555">1</text>
<line x1="9.3" y1="374.40" x2="768" y2="374.40" stroke="#e1e1e1" stroke-width="0.7"/>
<line x1="0" y1="374.40" x2="9.3" y2="374.40" stroke="#d8d8d8" stroke-width="0.6"/>
<text x="3.2" y="372.20" text-anchor="middle" style="font-size:7.2px;fill:#555">2</text>
<line x1="9.3" y1="384.50" x2="768" y2="384.50" stroke="#e1e1e1" stroke-width="0.7"/>
<line x1="0" y1="384.50" x2="9.3" y2="384.50" stroke="#d8d8d8" stroke-width="0.6"/>
<text x="3.2" y="382.30" text-anchor="middle" style="font-size:7.2px;fill:#555">3</text>
<line x1="9.3" y1="394.60" x2="768" y2="394.60" stroke="#e1e1e1" stroke-width="0.7"/>
<line x1="0" y1="394.60" x2="9.3" y2="394.60" stroke="#d8d8d8" stroke-width="0.6"/>
<text x="3.2" y="392.40" text-anchor="middle" style="font-size:7.2px;fill:#555">4</text>
<line x1="9.3" y1="404.70" x2="768" y2="404.70" stroke="#e1e1e1" stroke-width="0.7"/>
<line x1="0" y1="404.70" x2="9.3" y2="404.70" stroke="#d8d8d8" stroke-width="0.6"/>
<text x="3.2" y="402.50" text-anchor="middle" style="font-size:7.2px;fill:#555">5</text>
<line x1="9.3" y1="414.80" x2="768" y2="414.80" stroke="#e1e1e1" stroke-width="0.7"/>
<line x1="0" y1="414.80" x2="9.3" y2="414.80" stroke="#d8d8d8" stroke-width="0.6"/>
<text x="3.2" y="412.60" text-anchor="middle" style="font-size:7.2px;fill:#555">6</text>
<line x1="9.3" y1="424.90" x2="768" y2="424.90" stroke="#e1e1e1" stroke-width="0.7"/>
<line x1="0" y1="424.90" x2="9.3" y2="424.90" stroke="#d8d8d8" stroke-width="0.6"/>
<text x="3.2" y="422.70" text-anchor="middle" style="font-size:7.2px;fill:#555">7</text>
<line x1="9.3" y1="435.00" x2="768" y2="435.00" stroke="#e1e1e1" stroke-width="0.7"/>
<line x1="0" y1="435.00" x2="9.3" y2="435.00" stroke="#d8d8d8" stroke-width="0.6"/>
<text x="3.2" y="432.80" text-anchor="middle" style="font-size:7.2px;fill:#555">8</text>
<line x1="9.3" y1="445.10" x2="768" y2="445.10" stroke="#e1e1e1" stroke-width="0.7"/>
<line x1="0" y1="445.10" x2="9.3" y2="445.10" stroke="#d8d8d8" stroke-width="0.6"/>
<text x="3.2" y="442.90" text-anchor="middle" style="font-size:7.2px;fill:#555">9</text>
<line x1="9.3" y1="455.20" x2="768" y2="455.20" stroke="#e1e1e1" stroke-width="0.7"/>
<line x1="0" y1="455.20" x2="9.3" y2="455.20" stroke="#d8d8d8" stroke-width="0.6"/>
<text x="3.2" y="453.00" text-anchor="middle" style="font-size:7.2px;fill:#555">10</text>
<line x1="9.3" y1="465.30" x2="768" y2="465.30" stroke="#e1e1e1" stroke-width="0.7"/>
<line x1="0" y1="465.30" x2="9.3" y2="465.30" stroke="#d8d8d8" stroke-width="0.6"/>
<text x="3.2" y="463.10" text-anchor="middle" style="font-size:7.2px;fill:#555">11</text>
<line x1="9.3" y1="475.40" x2="768" y2="475.40" stroke="#e1e1e1" stroke-width="0.7"/>
<line x1="0" y1="475.40" x2="9.3" y2="475.40" stroke="#d8d8d8" stroke-width="0.6"/>
<text x="3.2" y="473.20" text-anchor="middle" style="font-size:7.2px;fill:#555">12</text>
<line x1="9.3" y1="485.50" x2="768" y2="485.50" stroke="#e1e1e1" stroke-width="0.7"/>
<line x1="0" y1="485.50" x2="9.3" y2="485.50" stroke="#d8d8d8" stroke-width="0.6"/>
<text x="3.2" y="483.30" text-anchor="middle" style="font-size:7.2px;fill:#555">13</text>
<line x1="9.3" y1="495.60" x2="768" y2="495.60" stroke="#e1e1e1" stroke-width="0.7"/>
<line x1="0" y1="495.60" x2="9.3" y2="495.60" stroke="#d8d8d8" stroke-width="0.6"/>
<text x="3.2" y="493.40" text-anchor="middle" style="font-size:7.2px;fill:#555">14</text>
<line x1="9.3" y1="505.70" x2="768" y2="505.70" stroke="#e1e1e1" stroke-width="0.7"/>
<line x1="0" y1="505.70" x2="9.3" y2="505.70" stroke="#d8d8d8" stroke-width="0.6"/>
<text x="3.2" y="503.50" text-anchor="middle" style="font-size:7.2px;fill:#555">15</text>
<line x1="9.3" y1="515.80" x2="768" y2="515.80" stroke="#e1e1e1" stroke-width="0.7"/>
<line x1="0" y1="515.80" x2="9.3" y2="515.80" stroke="#d8d8d8" stroke-width="0.6"/>
<text x="3.2" y="513.60" text-anchor="middle" style="font-size:7.2px;fill:#555">16</text>
<line x1="9.3" y1="525.90" x2="768" y2="525.90" stroke="#e1e1e1" stroke-width="0.7"/>
<line x1="0" y1="525.90" x2="9.3" y2="525.90" stroke="#d8d8d8" stroke-width="0.6"/>
<text x="3.2" y="523.70" text-anchor="middle" style="font-size:7.2px;fill:#555">17</text>
<line x1="9.3" y1="536.00" x2="768" y2="536.00" stroke="#e1e1e1" stroke-width="0.7"/>
<line x1="0" y1="536.00" x2="9.3" y2="536.00" stroke="#d8d8d8" stroke-width="0.6"/>
<text x="3.2" y="533.80" text-anchor="middle" style="font-size:7.2px;fill:#555">18</text>
<line x1="9.3" y1="546.10" x2="768" y2="546.10" stroke="#e1e1e1" stroke-width="0.7"/>
<line x1="0" y1="546.10" x2="9.3" y2="546.10" stroke="#d8d8d8" stroke-width="0.6"/>
<text x="3.2" y="543.90" text-anchor="middle" style="font-size:7.2px;fill:#555">19</text>
<line x1="9.3" y1="556.20" x2="768" y2="556.20" stroke="#e1e1e1" stroke-width="0.7"/>
<line x1="0" y1="556.20" x2="9.3" y2="556.20" stroke="#d8d8d8" stroke-width="0.6"/>
<text x="3.2" y="554.00" text-anchor="middle" style="font-size:7.2px;fill:#555">20</text>
<line x1="9.3" y1="566.30" x2="768" y2="566.30" stroke="#e1e1e1" stroke-width="0.7"/>
<line x1="0" y1="566.30" x2="9.3" y2="566.30" stroke="#d8d8d8" stroke-width="0.6"/>
<text x="3.2" y="564.10" text-anchor="middle" style="font-size:7.2px;fill:#555">21</text>
<line x1="9.3" y1="576.40" x2="768" y2="576.40" stroke="#e1e1e1" stroke-width="0.7"/>
<line x1="0" y1="576.40" x2="9.3" y2="576.40" stroke="#d8d8d8" stroke-width="0.6"/>
<text x="3.2" y="574.20" text-anchor="middle" style="font-size:7.2px;fill:#555">22</text>
<line x1="9.3" y1="586.50" x2="768" y2="586.50" stroke="#e1e1e1" stroke-width="0.7"/>
<line x1="0" y1="586.50" x2="9.3" y2="586.50" stroke="#d8d8d8" stroke-width="0.6"/>
<text x="3.2" y="584.30" text-anchor="middle" style="font-size:7.2px;fill:#555">23</text>
<line x1="9.3" y1="596.60" x2="768" y2="596.60" stroke="#e1e1e1" stroke-width="0.7"/>
<line x1="0" y1="596.60" x2="9.3" y2="596.60" stroke="#d8d8d8" stroke-width="0.6"/>
<text x="3.2" y="594.40" text-anchor="middle" style="font-size:7.2px;fill:#555">24</text>
<line x1="9.3" y1="606.70" x2="768" y2="606.70" stroke="#e1e1e1" stroke-width="0.7"/>
<line x1="0" y1="606.70" x2="9.3" y2="606.70" stroke="#d8d8d8" stroke-width="0.6"/>
<text x="3.2" y="604.50" text-anchor="middle" style="font-size:7.2px;fill:#555">25</text>
<line x1="9.3" y1="616.80" x2="768" y2="616.80" stroke="#e1e1e1" stroke-width="0.7"/>
<line x1="0" y1="616.80" x2="9.3" y2="616.80" stroke="#d8d8d8" stroke-width="0.6"/>
<text x="3.2" y="614.60" text-anchor="middle" style="font-size:7.2px;fill:#555">26</text>
<line x1="9.3" y1="626.90" x2="768" y2="626.90" stroke="#e1e1e1" stroke-width="0.7"/>
<line x1="0" y1="626.90" x2="9.3" y2="626.90" stroke="#d8d8d8" stroke-width="0.6"/>
<text x="3.2" y="624.70" text-anchor="middle" style="font-size:7.2px;fill:#555">27</text>
<line x1="9.3" y1="637.00" x2="768" y2="637.00" stroke="#e1e1e1" stroke-width="0.7"/>
<line x1="0" y1="637.00" x2="9.3" y2="637.00" stroke="#d8d8d8" stroke-width="0.6"/>
<text x="3.2" y="634.80" text-anchor="middle" style="font-size:7.2px;fill:#555">28</text>
<line x1="9.3" y1="647.10" x2="768" y2="647.10" stroke="#e1e1e1" stroke-width="0.7"/>
<line x1="0" y1="647.10" x2="9.3" y2="647.10" stroke="#d8d8d8" stroke-width="0.6"/>
<text x="3.2" y="644.90" text-anchor="middle" style="font-size:7.2px;fill:#555">29</text>
<line x1="9.3" y1="657.20" x2="768" y2="657.20" stroke="#e1e1e1" stroke-width="0.7"/>
<line x1="0" y1="657.20" x2="9.3" y2="657.20" stroke="#d8d8d8" stroke-width="0.6"/>
<text x="3.2" y="655.00" text-anchor="middle" style="font-size:7.2px;fill:#555">30</text>
<line x1="9.3" y1="667.30" x2="768" y2="667.30" stroke="#e1e1e1" stroke-width="0.7"/>
<line x1="0" y1="667.30" x2="9.3" y2="667.30" stroke="#d8d8d8" stroke-width="0.6"/>
<text x="3.2" y="665.10" text-anchor="middle" style="font-size:7.2px;fill:#555">31</text>
<line x1="9.3" y1="677.40" x2="768" y2="677.40" stroke="#e1e1e1" stroke-width="0.7"/>
<line x1="0" y1="677.40" x2="9.3" y2="677.40" stroke="#d8d8d8" stroke-width="0.6"/>
<text x="3.2" y="675.20" text-anchor="middle" style="font-size:7.2px;fill:#555">32</text>
<line x1="9.3" y1="687.50" x2="768" y2="687.50" stroke="#e1e1e1" stroke-width="0.7"/>
<line x1="0" y1="687.50" x2="9.3" y2="687.50" stroke="#d8d8d8" stroke-width="0.6"/>
<text x="3.2" y="685.30" text-anchor="middle" style="font-size:7.2px;fill:#555">33</text>
<line x1="9.3" y1="697.60" x2="768" y2="697.60" stroke="#e1e1e1" stroke-width="0.7"/>
<line x1="0" y1="697.60" x2="9.3" y2="697.60" stroke="#d8d8d8" stroke-width="0.6"/>
<text x="3.2" y="695.40" text-anchor="middle" style="font-size:7.2px;fill:#555">34</text>
<line x1="9.3" y1="707.70" x2="768" y2="707.70" stroke="#e1e1e1" stroke-width="0.7"/>
<line x1="0" y1="707.70" x2="9.3" y2="707.70" stroke="#d8d8d8" stroke-width="0.6"/>
<text x="3.2" y="705.50" text-anchor="middle" style="font-size:7.2px;fill:#555">35</text>
<line x1="9.3" y1="717.80" x2="768" y2="717.80" stroke="#e1e1e1" stroke-width="0.7"/>
<line x1="0" y1="717.80" x2="9.3" y2="717.80" stroke="#d8d8d8" stroke-width="0.6"/>
<text x="3.2" y="715.60" text-anchor="middle" style="font-size:7.2px;fill:#555">36</text>
<line x1="9.3" y1="727.90" x2="768" y2="727.90" stroke="#e1e1e1" stroke-width="0.7"/>
<line x1="0" y1="727.90" x2="9.3" y2="727.90" stroke="#d8d8d8" stroke-width="0.6"/>
<text x="3.2" y="725.70" text-anchor="middle" style="font-size:7.2px;fill:#555">37</text>
<line x1="9.3" y1="738.00" x2="768" y2="738.00" stroke="#e1e1e1" stroke-width="0.7"/>
<line x1="0" y1="738.00" x2="9.3" y2="738.00" stroke="#d8d8d8" stroke-width="0.6"/>
<text x="3.2" y="735.80" text-anchor="middle" style="font-size:7.2px;fill:#555">38</text>
<line x1="9.3" y1="748.10" x2="768" y2="748.10" stroke="#e1e1e1" stroke-width="0.7"/>
<line x1="0" y1="748.10" x2="9.3" y2="748.10" stroke="#d8d8d8" stroke-width="0.6"/>
<text x="3.2" y="745.90" text-anchor="middle" style="font-size:7.2px;fill:#555">39</text>
<line x1="71.1" y1="354.2" x2="71.1" y2="735" stroke="#e1e1e1" stroke-width="0.7"/>
<line x1="71.1" y1="344" x2="71.1" y2="354.2" stroke="#d6d6d6" stroke-width="0.6"/>
<line x1="163.4" y1="354.2" x2="163.4" y2="735" stroke="#e1e1e1" stroke-width="0.7"/>
<line x1="163.4" y1="344" x2="163.4" y2="354.2" stroke="#d6d6d6" stroke-width="0.6"/>
<line x1="274.4" y1="354.2" x2="274.4" y2="735" stroke="#e1e1e1" stroke-width="0.7"/>
<line x1="274.4" y1="344" x2="274.4" y2="354.2" stroke="#d6d6d6" stroke-width="0.6"/>
<line x1="332" y1="354.2" x2="332" y2="735" stroke="#e1e1e1" stroke-width="0.7"/>
<line x1="332" y1="344" x2="332" y2="354.2" stroke="#d6d6d6" stroke-width="0.6"/>
<line x1="363.9" y1="354.2" x2="363.9" y2="735" stroke="#e1e1e1" stroke-width="0.7"/>
<line x1="363.9" y1="344" x2="363.9" y2="354.2" stroke="#d6d6d6" stroke-width="0.6"/>
<line x1="412.7" y1="354.2" x2="412.7" y2="735" stroke="#e1e1e1" stroke-width="0.7"/>
<line x1="412.7" y1="344" x2="412.7" y2="354.2" stroke="#d6d6d6" stroke-width="0.6"/>
<line x1="465.3" y1="354.2" x2="465.3" y2="735" stroke="#e1e1e1" stroke-width="0.7"/>
<line x1="465.3" y1="344" x2="465.3" y2="354.2" stroke="#d6d6d6" stroke-width="0.6"/>
<line x1="520.6" y1="354.2" x2="520.6" y2="735" stroke="#e1e1e1" stroke-width="0.7"/>
<line x1="520.6" y1="344" x2="520.6" y2="354.2" stroke="#d6d6d6" stroke-width="0.6"/>
<line x1="569.6" y1="354.2" x2="569.6" y2="735" stroke="#e1e1e1" stroke-width="0.7"/>
<line x1="569.6" y1="344" x2="569.6" y2="354.2" stroke="#d6d6d6" stroke-width="0.6"/>
<line x1="612.5" y1="354.2" x2="612.5" y2="735" stroke="#e1e1e1" stroke-width="0.7"/>
<line x1="612.5" y1="344" x2="612.5" y2="354.2" stroke="#d6d6d6" stroke-width="0.6"/>
<line x1="655.4" y1="354.2" x2="655.4" y2="735" stroke="#e1e1e1" stroke-width="0.7"/>
<line x1="655.4" y1="344" x2="655.4" y2="354.2" stroke="#d6d6d6" stroke-width="0.6"/>
<line x1="698.5" y1="354.2" x2="698.5" y2="735" stroke="#e1e1e1" stroke-width="0.7"/>
<line x1="698.5" y1="344" x2="698.5" y2="354.2" stroke="#d6d6d6" stroke-width="0.6"/>
<line x1="741.8" y1="354.2" x2="741.8" y2="735" stroke="#e1e1e1" stroke-width="0.7"/>
<line x1="741.8" y1="344" x2="741.8" y2="354.2" stroke="#d6d6d6" stroke-width="0.6"/>
<text x="40.2" y="350.8" text-anchor="middle" style="font-size:6.2px;fill:#666">B</text>
<text x="117.2" y="350.8" text-anchor="middle" style="font-size:6.2px;fill:#666">C</text>
<text x="218.9" y="350.8" text-anchor="middle" style="font-size:6.2px;fill:#666">D</text>
<text x="303.2" y="350.8" text-anchor="middle" style="font-size:6.2px;fill:#666">E</text>
<text x="347.9" y="350.8" text-anchor="middle" style="font-size:6.2px;fill:#666">F</text>
<text x="388.3" y="350.8" text-anchor="middle" style="font-size:6.2px;fill:#666">G</text>
<text x="439.0" y="350.8" text-anchor="middle" style="font-size:6.2px;fill:#666">H</text>
<text x="493.0" y="350.8" text-anchor="middle" style="font-size:6.2px;fill:#666">I</text>
<text x="545.1" y="350.8" text-anchor="middle" style="font-size:6.2px;fill:#666">J</text>
<text x="591.0" y="350.8" text-anchor="middle" style="font-size:6.2px;fill:#666">K</text>
<text x="634.0" y="350.8" text-anchor="middle" style="font-size:6.2px;fill:#666">L</text>
<text x="677.0" y="350.8" text-anchor="middle" style="font-size:6.2px;fill:#666">M</text>
<text x="720.1" y="350.8" text-anchor="middle" style="font-size:6.2px;fill:#666">N</text>
<text x="763.4" y="350.8" text-anchor="middle" style="font-size:6.2px;fill:#666">O</text>
<line x1="0" y1="353.8" x2="768" y2="353.8" stroke="#cfcfcf" stroke-width="0.7"/>
<line x1="9.3" y1="340" x2="9.3" y2="735" stroke="#cfcfcf" stroke-width="0.7"/>
<path d="M8 346 V352.3 H2 Z" fill="#d6d6d6"/>
</svg>
<div class="a" style="left:9.3px;top:354.20px;width:61.8px;height:10.1px;background:#c1e5f5"></div>
<div class="a cell" style="left:10.9px;top:354.20px;font-weight:bold;transform:scaleX(0.866);transform-origin:0 50%">Number of Orders</div>
<div class="a" style="left:71.1px;top:354.20px;width:92.3px;height:10.1px;background:#c1e5f5"></div>
<div class="a cell" style="left:72.7px;top:354.20px;font-weight:bold;transform:scaleX(0.866);transform-origin:0 50%">Average Revenue Per Order</div>
<div class="a cell" style="right:698.3px;top:364.30px;transform:scaleX(0.85);transform-origin:100% 50%">9,355</div>
<div class="a cell" style="right:606.0px;top:364.30px;transform:scaleX(0.85);transform-origin:100% 50%">$1,343,345</div>
<div class="a" style="left:9.3px;top:384.50px;width:61.8px;height:10.1px;background:#c1e5f5"></div>
<div class="a cell" style="left:10.9px;top:384.50px;font-weight:bold;transform:scaleX(0.866);transform-origin:0 50%">Revenue</div>
<div class="a cell" style="right:698.3px;top:394.60px;transform:scaleX(0.85);transform-origin:100% 50%">$1,001,655,921</div>
<div class="a cell" style="right:698.3px;top:404.70px;transform:scaleX(0.85);transform-origin:100% 50%">$173,899,031</div>
<div class="a cell" style="right:698.3px;top:414.80px;transform:scaleX(0.85);transform-origin:100% 50%">$814,751,576</div>
<div class="a cell" style="right:698.3px;top:424.90px;transform:scaleX(0.85);transform-origin:100% 50%">$453,458,344</div>
<div class="a cell" style="right:698.3px;top:435.00px;transform:scaleX(0.85);transform-origin:100% 50%">$1,697,415,010</div>
<div class="a cell" style="right:698.3px;top:445.10px;transform:scaleX(0.85);transform-origin:100% 50%">$35,369,181</div>
<div class="a cell" style="right:698.3px;top:455.20px;transform:scaleX(0.85);transform-origin:100% 50%">$2,789,664,379</div>
<div class="a cell" style="right:698.3px;top:465.30px;transform:scaleX(0.85);transform-origin:100% 50%">$1,564,748,243</div>
<div class="a cell" style="right:698.3px;top:475.40px;transform:scaleX(0.85);transform-origin:100% 50%">$2,501,328,868</div>
<div class="a cell" style="right:698.3px;top:485.50px;transform:scaleX(0.85);transform-origin:100% 50%">$331,821,185</div>
<div class="a cell" style="right:698.3px;top:495.60px;transform:scaleX(0.85);transform-origin:100% 50%">$594,290,708</div>
<div class="a cell" style="right:698.3px;top:505.70px;transform:scaleX(0.85);transform-origin:100% 50%">$608,592,924</div>
<div class="a" style="left:274.4px;top:354.20px;width:57.6px;height:10.1px;background:#c1e5f5"></div>
<div class="a cell" style="left:276.0px;top:354.20px;font-weight:bold;transform:scaleX(0.866);transform-origin:0 50%">Sales Channel</div>
<div class="a" style="left:323.5px;top:354.80px;width:7.9px;height:8.3px;background:#fff;border:0.6px solid #b8b8b8"></div>
<svg class="a" style="left:325.4px;top:357.80px" width="5" height="3"><path d="M0.3 0.3 H4.1 L2.2 2.5 Z" fill="#666"/></svg>
<div class="a" style="left:332px;top:354.20px;width:31.9px;height:10.1px;background:#c1e5f5"></div>
<div class="a cell" style="left:333.6px;top:354.20px;font-weight:bold;transform:scaleX(0.866);transform-origin:0 50%">Revenue</div>
<div class="a cell" style="left:276.0px;top:364.30px;transform:scaleX(0.93);transform-origin:0 50%">Offline</div>
<div class="a cell" style="right:405.5px;top:364.30px;transform:scaleX(0.85);transform-origin:100% 50%">49.99%</div>
<div class="a cell" style="left:276.0px;top:374.40px;transform:scaleX(0.93);transform-origin:0 50%">Online</div>
<div class="a cell" style="right:405.5px;top:374.40px;transform:scaleX(0.85);transform-origin:100% 50%">50.01%</div>
<div class="a" style="left:465.3px;top:354.20px;width:55.3px;height:10.1px;background:#c1e5f5"></div>
<div class="a cell" style="left:466.9px;top:354.20px;font-weight:bold;transform:scaleX(0.866);transform-origin:0 50%">Order Priority</div>
<div class="a" style="left:512.1px;top:354.80px;width:7.9px;height:8.3px;background:#fff;border:0.6px solid #b8b8b8"></div>
<svg class="a" style="left:514.0px;top:357.80px" width="5" height="3"><path d="M0.3 0.3 H4.1 L2.2 2.5 Z" fill="#666"/></svg>
<div class="a" style="left:520.6px;top:354.20px;width:49.0px;height:10.1px;background:#c1e5f5"></div>
<div class="a cell" style="left:522.2px;top:354.20px;font-weight:bold;transform:scaleX(0.866);transform-origin:0 50%">Revenue</div>
<div class="a cell" style="left:466.9px;top:364.30px;transform:scaleX(0.93);transform-origin:0 50%">High</div>
<div class="a cell" style="right:199.8px;top:364.30px;transform:scaleX(0.85);transform-origin:100% 50%">$3,167,190,408</div>
<div class="a cell" style="left:466.9px;top:374.40px;transform:scaleX(0.93);transform-origin:0 50%">Low</div>
<div class="a cell" style="right:199.8px;top:374.40px;transform:scaleX(0.85);transform-origin:100% 50%">$3,196,326,524</div>
<div class="a cell" style="left:466.9px;top:384.50px;transform:scaleX(0.93);transform-origin:0 50%">Medium</div>
<div class="a cell" style="right:199.8px;top:384.50px;transform:scaleX(0.85);transform-origin:100% 50%">$2,971,083,136</div>
<div class="a cell" style="left:466.9px;top:394.60px;transform:scaleX(0.93);transform-origin:0 50%">Urgent</div>
<div class="a cell" style="right:199.8px;top:394.60px;transform:scaleX(0.85);transform-origin:100% 50%">$3,232,395,300</div>
<div class="a" style="left:124.4px;top:461.5px;width:170px;height:146.2px;background:#fff;border:0.7px solid #d9d9d9"></div>
<svg class="a" style="left:0;top:0;overflow:visible" width="768" height="735" viewBox="0 0 768 735">
<path d="M191.3 542.9 L191.3 494.7 A48.2 48.2 0 0 1 191.33 591.10 Z" fill="#1b1b1b" stroke="#fff" stroke-width="0.8"/>
<path d="M191.3 542.9 L191.33 591.10 A48.2 48.2 0 0 1 191.3 494.7 Z" fill="#f0a500" stroke="#fff" stroke-width="0.8"/>
<text x="165.6" y="476.8" style="font-size:8.5px;fill:#595959">Sales Channel Distribution</text>
<text transform="scale(0.9,1)" x="251.67" y="541.60" text-anchor="middle" style="font-size:6px;fill:#fff">49.99%</text>
<text transform="scale(0.9,1)" x="173.00" y="548.90" text-anchor="middle" style="font-size:6px;fill:#404040">50.01%</text>
<rect x="258.4" y="527.8" width="30" height="8.2" fill="#d9d9d9"/>
<text transform="scale(0.87,1)" x="298.85" y="534.50" style="font-size:6px;fill:#333">Sales Channel</text>
<rect x="261.1" y="541.3" width="2.7" height="2.6" fill="#1b1b1b"/>
<text transform="scale(0.9,1)" x="295.78" y="544.20" style="font-size:5.9px;fill:#595959">Offline</text>
<rect x="261.1" y="553" width="2.7" height="2.2" fill="#f0a500"/>
<text transform="scale(0.9,1)" x="295.78" y="555.70" style="font-size:5.9px;fill:#595959">Online</text>
</svg>
<div class="a" style="left:79.3px;top:622.1px;width:327px;height:120px;background:#fff;border:0.7px solid #dedede"></div>
<svg class="a" style="left:0;top:0" width="768" height="735" viewBox="0 0 768 735">
<text x="243" y="636" text-anchor="middle" style="font-size:8.1px;fill:#595959">Revenue by Order Priority</text>
<line x1="142.2" y1="646.70" x2="398.7" y2="646.70" stroke="#e3e3e3" stroke-width="0.8"/>
<text transform="scale(0.92,1)" x="148.70" y="648.80" text-anchor="end" style="font-size:6px;fill:#595959">$3,300,000,000</text>
<line x1="142.2" y1="655.96" x2="398.7" y2="655.96" stroke="#e3e3e3" stroke-width="0.8"/>
<text transform="scale(0.92,1)" x="148.70" y="658.06" text-anchor="end" style="font-size:6px;fill:#595959">$3,250,000,000</text>
<line x1="142.2" y1="665.22" x2="398.7" y2="665.22" stroke="#e3e3e3" stroke-width="0.8"/>
<text transform="scale(0.92,1)" x="148.70" y="667.32" text-anchor="end" style="font-size:6px;fill:#595959">$3,200,000,000</text>
<line x1="142.2" y1="674.48" x2="398.7" y2="674.48" stroke="#e3e3e3" stroke-width="0.8"/>
<text transform="scale(0.92,1)" x="148.70" y="676.58" text-anchor="end" style="font-size:6px;fill:#595959">$3,150,000,000</text>
<line x1="142.2" y1="683.74" x2="398.7" y2="683.74" stroke="#e3e3e3" stroke-width="0.8"/>
<text transform="scale(0.92,1)" x="148.70" y="685.84" text-anchor="end" style="font-size:6px;fill:#595959">$3,100,000,000</text>
<line x1="142.2" y1="693.00" x2="398.7" y2="693.00" stroke="#e3e3e3" stroke-width="0.8"/>
<text transform="scale(0.92,1)" x="148.70" y="695.10" text-anchor="end" style="font-size:6px;fill:#595959">$3,050,000,000</text>
<line x1="142.2" y1="702.26" x2="398.7" y2="702.26" stroke="#e3e3e3" stroke-width="0.8"/>
<text transform="scale(0.92,1)" x="148.70" y="704.36" text-anchor="end" style="font-size:6px;fill:#595959">$3,000,000,000</text>
<line x1="142.2" y1="711.52" x2="398.7" y2="711.52" stroke="#e3e3e3" stroke-width="0.8"/>
<text transform="scale(0.92,1)" x="148.70" y="713.62" text-anchor="end" style="font-size:6px;fill:#595959">$2,950,000,000</text>
<line x1="142.2" y1="720.78" x2="398.7" y2="720.78" stroke="#e3e3e3" stroke-width="0.8"/>
<text transform="scale(0.92,1)" x="148.70" y="722.88" text-anchor="end" style="font-size:6px;fill:#595959">$2,900,000,000</text>
<line x1="142.2" y1="730.04" x2="398.7" y2="730.04" stroke="#e3e3e3" stroke-width="0.8"/>
<text transform="scale(0.92,1)" x="148.70" y="732.14" text-anchor="end" style="font-size:6px;fill:#595959">$2,850,000,000</text>
<line x1="142.2" y1="739.30" x2="398.7" y2="739.30" stroke="#e3e3e3" stroke-width="0.8"/>
<text transform="scale(0.92,1)" x="148.70" y="741.40" text-anchor="end" style="font-size:6px;fill:#595959">$2,800,000,000</text>
<text transform="translate(94.4,692.9) rotate(-90)" text-anchor="middle" style="font-size:6.2px;fill:#595959">Revenue</text>
<rect x="164.5" y="671.80" width="20" height="68.20" fill="#1b1b1b"/>
<text transform="scale(0.92,1)" x="189.67" y="666.60" text-anchor="middle" style="font-size:6px;fill:#404040">$3,167,190,408</text>
<rect x="228.5" y="666.40" width="20" height="73.60" fill="#1b1b1b"/>
<text transform="scale(0.92,1)" x="259.24" y="661.20" text-anchor="middle" style="font-size:6px;fill:#404040">$3,196,326,524</text>
<rect x="292.5" y="708.12" width="20" height="31.88" fill="#1b1b1b"/>
<text transform="scale(0.92,1)" x="328.80" y="702.92" text-anchor="middle" style="font-size:6px;fill:#404040">$2,971,083,136</text>
<rect x="356.5" y="659.72" width="20" height="80.28" fill="#1b1b1b"/>
<text transform="scale(0.92,1)" x="398.37" y="654.52" text-anchor="middle" style="font-size:6px;fill:#404040">$3,232,395,300</text>
</svg>
<div class="a" style="left:287.2px;top:417px;width:471.5px;height:204.5px;background:#fff"></div>
<svg class="a" style="left:0;top:0" width="768" height="735" viewBox="0 0 768 735">
<line x1="411.4" y1="440.6" x2="411.4" y2="591.6" stroke="#e3e3e3" stroke-width="0.8"/>
<line x1="475.5" y1="440.6" x2="475.5" y2="591.6" stroke="#e3e3e3" stroke-width="0.8"/>
<line x1="539.6" y1="440.6" x2="539.6" y2="591.6" stroke="#e3e3e3" stroke-width="0.8"/>
<line x1="603.7" y1="440.6" x2="603.7" y2="591.6" stroke="#e3e3e3" stroke-width="0.8"/>
<line x1="667.8" y1="440.6" x2="667.8" y2="591.6" stroke="#e3e3e3" stroke-width="0.8"/>
<line x1="731.9" y1="440.6" x2="731.9" y2="591.6" stroke="#e3e3e3" stroke-width="0.8"/>
<line x1="347.3" y1="440.6" x2="347.3" y2="591.6" stroke="#d9d9d9" stroke-width="0.8"/>
<rect x="347.3" y="445.1" width="78.0" height="5" fill="#f0a500"/>
<text transform="scale(0.9,1)" x="379.78" y="449.70" text-anchor="end" style="font-size:6px;fill:#595959">Vegetables</text>
<text transform="scale(0.92,1)" x="466.11" y="449.70" style="font-size:6px;fill:#595959">$608,592,924</text>
<circle cx="347.3" cy="445.1" r="1.4" fill="#fff" stroke="#4a90d9" stroke-width="0.8"/>
<circle cx="347.3" cy="450.1" r="1.4" fill="#fff" stroke="#4a90d9" stroke-width="0.8"/>
<circle cx="425.3" cy="445.1" r="1.4" fill="#fff" stroke="#4a90d9" stroke-width="0.8"/>
<circle cx="425.3" cy="450.1" r="1.4" fill="#fff" stroke="#4a90d9" stroke-width="0.8"/>
<rect x="347.3" y="457.6" width="76.2" height="5" fill="#f0a500"/>
<text transform="scale(0.9,1)" x="379.78" y="462.24" text-anchor="end" style="font-size:6px;fill:#595959">Snacks</text>
<text transform="scale(0.92,1)" x="464.12" y="462.24" style="font-size:6px;fill:#595959">$594,290,708</text>
<circle cx="347.3" cy="457.6" r="1.4" fill="#fff" stroke="#4a90d9" stroke-width="0.8"/>
<circle cx="347.3" cy="462.6" r="1.4" fill="#fff" stroke="#4a90d9" stroke-width="0.8"/>
<circle cx="423.5" cy="457.6" r="1.4" fill="#fff" stroke="#4a90d9" stroke-width="0.8"/>
<circle cx="423.5" cy="462.6" r="1.4" fill="#fff" stroke="#4a90d9" stroke-width="0.8"/>
<rect x="347.3" y="470.2" width="42.5" height="5" fill="#f0a500"/>
<text transform="scale(0.9,1)" x="379.78" y="474.78" text-anchor="end" style="font-size:6px;fill:#595959">Personal Care</text>
<text transform="scale(0.92,1)" x="427.54" y="474.78" style="font-size:6px;fill:#595959">$331,821,185</text>
<circle cx="347.3" cy="470.2" r="1.4" fill="#fff" stroke="#4a90d9" stroke-width="0.8"/>
<circle cx="347.3" cy="475.2" r="1.4" fill="#fff" stroke="#4a90d9" stroke-width="0.8"/>
<circle cx="389.8" cy="470.2" r="1.4" fill="#fff" stroke="#4a90d9" stroke-width="0.8"/>
<circle cx="389.8" cy="475.2" r="1.4" fill="#fff" stroke="#4a90d9" stroke-width="0.8"/>
<rect x="347.3" y="482.7" width="320.7" height="5" fill="#f0a500"/>
<text transform="scale(0.9,1)" x="379.78" y="487.32" text-anchor="end" style="font-size:6px;fill:#595959">Office Supplies</text>
<text transform="scale(0.92,1)" x="729.86" y="487.32" style="font-size:6px;fill:#595959">$2,501,328,868</text>
<circle cx="347.3" cy="482.7" r="1.4" fill="#fff" stroke="#4a90d9" stroke-width="0.8"/>
<circle cx="347.3" cy="487.7" r="1.4" fill="#fff" stroke="#4a90d9" stroke-width="0.8"/>
<circle cx="668.0" cy="482.7" r="1.4" fill="#fff" stroke="#4a90d9" stroke-width="0.8"/>
<circle cx="668.0" cy="487.7" r="1.4" fill="#fff" stroke="#4a90d9" stroke-width="0.8"/>
<rect x="347.3" y="495.3" width="200.6" height="5" fill="#f0a500"/>
<text transform="scale(0.9,1)" x="379.78" y="499.86" text-anchor="end" style="font-size:6px;fill:#595959">Meat</text>
<text transform="scale(0.92,1)" x="599.35" y="499.86" style="font-size:6px;fill:#595959">$1,564,748,243</text>
<circle cx="347.3" cy="495.3" r="1.4" fill="#fff" stroke="#4a90d9" stroke-width="0.8"/>
<circle cx="347.3" cy="500.3" r="1.4" fill="#fff" stroke="#4a90d9" stroke-width="0.8"/>
<circle cx="547.9" cy="495.3" r="1.4" fill="#fff" stroke="#4a90d9" stroke-width="0.8"/>
<circle cx="547.9" cy="500.3" r="1.4" fill="#fff" stroke="#4a90d9" stroke-width="0.8"/>
<rect x="347.3" y="507.8" width="357.6" height="5" fill="#f0a500"/>
<text transform="scale(0.9,1)" x="379.78" y="512.40" text-anchor="end" style="font-size:6px;fill:#595959">Household</text>
<text transform="scale(0.92,1)" x="770.04" y="512.40" style="font-size:6px;fill:#595959">$2,789,664,379</text>
<circle cx="347.3" cy="507.8" r="1.4" fill="#fff" stroke="#4a90d9" stroke-width="0.8"/>
<circle cx="347.3" cy="512.8" r="1.4" fill="#fff" stroke="#4a90d9" stroke-width="0.8"/>
<circle cx="704.9" cy="507.8" r="1.4" fill="#fff" stroke="#4a90d9" stroke-width="0.8"/>
<circle cx="704.9" cy="512.8" r="1.4" fill="#fff" stroke="#4a90d9" stroke-width="0.8"/>
<rect x="347.3" y="520.3" width="4.5" height="5" fill="#f0a500"/>
<text transform="scale(0.9,1)" x="379.78" y="524.94" text-anchor="end" style="font-size:6px;fill:#595959">Fruits</text>
<text transform="scale(0.92,1)" x="386.23" y="524.94" style="font-size:6px;fill:#595959">$35,369,181</text>
<circle cx="347.3" cy="520.3" r="1.4" fill="#fff" stroke="#4a90d9" stroke-width="0.8"/>
<circle cx="347.3" cy="525.3" r="1.4" fill="#fff" stroke="#4a90d9" stroke-width="0.8"/>
<circle cx="351.8" cy="520.3" r="1.4" fill="#fff" stroke="#4a90d9" stroke-width="0.8"/>
<circle cx="351.8" cy="525.3" r="1.4" fill="#fff" stroke="#4a90d9" stroke-width="0.8"/>
<rect x="347.3" y="532.9" width="217.6" height="5" fill="#f0a500"/>
<text transform="scale(0.9,1)" x="379.78" y="537.48" text-anchor="end" style="font-size:6px;fill:#595959">Cosmetics</text>
<text transform="scale(0.92,1)" x="617.84" y="537.48" style="font-size:6px;fill:#595959">$1,697,415,010</text>
<circle cx="347.3" cy="532.9" r="1.4" fill="#fff" stroke="#4a90d9" stroke-width="0.8"/>
<circle cx="347.3" cy="537.9" r="1.4" fill="#fff" stroke="#4a90d9" stroke-width="0.8"/>
<circle cx="564.9" cy="532.9" r="1.4" fill="#fff" stroke="#4a90d9" stroke-width="0.8"/>
<circle cx="564.9" cy="537.9" r="1.4" fill="#fff" stroke="#4a90d9" stroke-width="0.8"/>
<rect x="347.3" y="545.4" width="58.1" height="5" fill="#f0a500"/>
<text transform="scale(0.9,1)" x="379.78" y="550.02" text-anchor="end" style="font-size:6px;fill:#595959">Clothes</text>
<text transform="scale(0.92,1)" x="444.49" y="550.02" style="font-size:6px;fill:#595959">$453,458,344</text>
<circle cx="347.3" cy="545.4" r="1.4" fill="#fff" stroke="#4a90d9" stroke-width="0.8"/>
<circle cx="347.3" cy="550.4" r="1.4" fill="#fff" stroke="#4a90d9" stroke-width="0.8"/>
<circle cx="405.4" cy="545.4" r="1.4" fill="#fff" stroke="#4a90d9" stroke-width="0.8"/>
<circle cx="405.4" cy="550.4" r="1.4" fill="#fff" stroke="#4a90d9" stroke-width="0.8"/>
<rect x="347.3" y="558.0" width="104.5" height="5" fill="#f0a500"/>
<text transform="scale(0.9,1)" x="379.78" y="562.56" text-anchor="end" style="font-size:6px;fill:#595959">Cereal</text>
<text transform="scale(0.92,1)" x="494.84" y="562.56" style="font-size:6px;fill:#595959">$814,751,576</text>
<circle cx="347.3" cy="558.0" r="1.4" fill="#fff" stroke="#4a90d9" stroke-width="0.8"/>
<circle cx="347.3" cy="563.0" r="1.4" fill="#fff" stroke="#4a90d9" stroke-width="0.8"/>
<circle cx="451.8" cy="558.0" r="1.4" fill="#fff" stroke="#4a90d9" stroke-width="0.8"/>
<circle cx="451.8" cy="563.0" r="1.4" fill="#fff" stroke="#4a90d9" stroke-width="0.8"/>
<rect x="347.3" y="570.5" width="22.3" height="5" fill="#f0a500"/>
<text transform="scale(0.9,1)" x="379.78" y="575.10" text-anchor="end" style="font-size:6px;fill:#595959">Beverages</text>
<text transform="scale(0.92,1)" x="405.54" y="575.10" style="font-size:6px;fill:#595959">$173,899,031</text>
<circle cx="347.3" cy="570.5" r="1.4" fill="#fff" stroke="#4a90d9" stroke-width="0.8"/>
<circle cx="347.3" cy="575.5" r="1.4" fill="#fff" stroke="#4a90d9" stroke-width="0.8"/>
<circle cx="369.6" cy="570.5" r="1.4" fill="#fff" stroke="#4a90d9" stroke-width="0.8"/>
<circle cx="369.6" cy="575.5" r="1.4" fill="#fff" stroke="#4a90d9" stroke-width="0.8"/>
<rect x="347.3" y="583.0" width="128.4" height="5" fill="#f0a500"/>
<text transform="scale(0.9,1)" x="379.78" y="587.64" text-anchor="end" style="font-size:6px;fill:#595959">Baby Food</text>
<text transform="scale(0.92,1)" x="520.88" y="587.64" style="font-size:6px;fill:#595959">$1,001,655,921</text>
<circle cx="347.3" cy="583.0" r="1.4" fill="#fff" stroke="#4a90d9" stroke-width="0.8"/>
<circle cx="347.3" cy="588.0" r="1.4" fill="#fff" stroke="#4a90d9" stroke-width="0.8"/>
<circle cx="475.7" cy="583.0" r="1.4" fill="#fff" stroke="#4a90d9" stroke-width="0.8"/>
<circle cx="475.7" cy="588.0" r="1.4" fill="#fff" stroke="#4a90d9" stroke-width="0.8"/>
<text transform="scale(0.92,1)" x="377.50" y="601.60" text-anchor="middle" style="font-size:6px;fill:#595959">$0</text>
<text transform="scale(0.92,1)" x="447.17" y="601.60" text-anchor="middle" style="font-size:6px;fill:#595959">$500,000,000</text>
<text transform="scale(0.92,1)" x="516.85" y="601.60" text-anchor="middle" style="font-size:6px;fill:#595959">$1,000,000,000</text>
<text transform="scale(0.92,1)" x="586.52" y="601.60" text-anchor="middle" style="font-size:6px;fill:#595959">$1,500,000,000</text>
<text transform="scale(0.92,1)" x="656.20" y="601.60" text-anchor="middle" style="font-size:6px;fill:#595959">$2,000,000,000</text>
<text transform="scale(0.92,1)" x="725.87" y="601.60" text-anchor="middle" style="font-size:6px;fill:#595959">$2,500,000,000</text>
<text transform="scale(0.92,1)" x="795.54" y="601.60" text-anchor="middle" style="font-size:6px;fill:#595959">$3,000,000,000</text>
<text x="522.3" y="430" text-anchor="middle" style="font-size:8.1px;fill:#595959">Revenue by Item Type</text>
<text x="539.4" y="612.4" text-anchor="middle" style="font-size:6.2px;fill:#595959">Revenue</text>
<text transform="translate(301.8,517.4) rotate(-90)" text-anchor="middle" style="font-size:6.3px;fill:#595959">Item Type</text>
<rect x="287.2" y="416.6" width="471.5" height="204.9" fill="none" stroke="#8c8c8c" stroke-width="0.95"/>
<circle cx="287.2" cy="416.6" r="2.7" fill="#fff" stroke="#6e6e6e" stroke-width="0.9"/>
<circle cx="287.2" cy="519.1" r="2.7" fill="#fff" stroke="#6e6e6e" stroke-width="0.9"/>
<circle cx="287.2" cy="621.5" r="2.7" fill="#fff" stroke="#6e6e6e" stroke-width="0.9"/>
<circle cx="522.9" cy="416.6" r="2.7" fill="#fff" stroke="#6e6e6e" stroke-width="0.9"/>
<circle cx="522.9" cy="621.5" r="2.7" fill="#fff" stroke="#6e6e6e" stroke-width="0.9"/>
<circle cx="758.7" cy="416.6" r="2.7" fill="#fff" stroke="#6e6e6e" stroke-width="0.9"/>
<circle cx="758.7" cy="519.1" r="2.7" fill="#fff" stroke="#6e6e6e" stroke-width="0.9"/>
<circle cx="758.7" cy="621.5" r="2.7" fill="#fff" stroke="#6e6e6e" stroke-width="0.9"/>
</svg>
<div class="a" style="left:765px;top:416px;width:8px;height:14px;background:#7fbf95"></div>
<div class="a" style="left:765px;top:435px;width:8px;height:14.5px;background:#fff;border:0.7px solid #a8a8a8"></div>
<svg class="a" style="left:765px;top:440px" width="4" height="8"><path d="M3.5 3 Q1 3.5 0.8 6.5 L3.5 5 Z" fill="#4a8fd8"/></svg>
<div class="a" style="left:372.8px;top:287.2px;width:87.8px;height:215.6px;background:#fff;border:0.7px solid #c6c6c6;border-radius:2.5px;box-shadow:0 1.5px 3px rgba(0,0,0,0.18)"></div>
<svg class="a" style="left:0;top:0" width="768" height="735" viewBox="0 0 768 735">
<rect x="380.2" y="292.3" width="7.6" height="7" fill="#fff" stroke="#e4e4e4" stroke-width="0.6"/>
<text transform="scale(0.9,1)" x="436.67" y="297.3" class="mi">Automatic</text><line x1="393" y1="298.4" x2="397.2" y2="298.4" stroke="#333" stroke-width="0.45"/>
<line x1="374.2" y1="303" x2="459.6" y2="303" stroke="#e1e1e1" stroke-width="0.7"/>
<line x1="374.2" y1="371.4" x2="459.6" y2="371.4" stroke="#e1e1e1" stroke-width="0.7"/>
<line x1="374.2" y1="400" x2="459.6" y2="400" stroke="#e1e1e1" stroke-width="0.7"/>
<line x1="374.2" y1="429.6" x2="459.6" y2="429.6" stroke="#e1e1e1" stroke-width="0.7"/>
<line x1="374.2" y1="445.2" x2="459.6" y2="445.2" stroke="#e1e1e1" stroke-width="0.7"/>
<text transform="scale(0.9,1)" x="423.56" y="313.3" class="mh">Theme Colors</text>
<rect x="375.8" y="319.8" width="5.8" height="5.8" fill="#ffffff" stroke="#dcdcdc" stroke-width="0.5"/>
<rect x="375.8" y="333.00" width="5.8" height="6.4" fill="#f2f2f2"/>
<rect x="375.8" y="339.36" width="5.8" height="6.4" fill="#d9d9d9"/>
<rect x="375.8" y="345.72" width="5.8" height="6.4" fill="#bfbfbf"/>
<rect x="375.8" y="352.08" width="5.8" height="6.4" fill="#a6a6a6"/>
<rect x="375.8" y="358.44" width="5.8" height="6.4" fill="#808080"/>
<rect x="384.4" y="319.8" width="5.8" height="5.8" fill="#000000"/>
<rect x="384.4" y="333.00" width="5.8" height="6.4" fill="#808080"/>
<rect x="384.4" y="339.36" width="5.8" height="6.4" fill="#595959"/>
<rect x="384.4" y="345.72" width="5.8" height="6.4" fill="#404040"/>
<rect x="384.4" y="352.08" width="5.8" height="6.4" fill="#262626"/>
<rect x="384.4" y="358.44" width="5.8" height="6.4" fill="#0d0d0d"/>
<rect x="393.0" y="319.8" width="5.8" height="5.8" fill="#e8e8e8" stroke="#dcdcdc" stroke-width="0.5"/>
<rect x="393.0" y="333.00" width="5.8" height="6.4" fill="#d1d1d1"/>
<rect x="393.0" y="339.36" width="5.8" height="6.4" fill="#aeaeae"/>
<rect x="393.0" y="345.72" width="5.8" height="6.4" fill="#747474"/>
<rect x="393.0" y="352.08" width="5.8" height="6.4" fill="#3a3a3a"/>
<rect x="393.0" y="358.44" width="5.8" height="6.4" fill="#171717"/>
<rect x="401.6" y="319.8" width="5.8" height="5.8" fill="#0e2841"/>
<rect x="401.6" y="333.00" width="5.8" height="6.4" fill="#dceaf7"/>
<rect x="401.6" y="339.36" width="5.8" height="6.4" fill="#a6caec"/>
<rect x="401.6" y="345.72" width="5.8" height="6.4" fill="#4e95d9"/>
<rect x="401.6" y="352.08" width="5.8" height="6.4" fill="#215f9a"/>
<rect x="401.6" y="358.44" width="5.8" height="6.4" fill="#163e64"/>
<rect x="410.2" y="319.8" width="5.8" height="5.8" fill="#156082"/>
<rect x="410.2" y="333.00" width="5.8" height="6.4" fill="#c1e5f5"/>
<rect x="410.2" y="339.36" width="5.8" height="6.4" fill="#83cbeb"/>
<rect x="410.2" y="345.72" width="5.8" height="6.4" fill="#46b1e1"/>
<rect x="410.2" y="352.08" width="5.8" height="6.4" fill="#104862"/>
<rect x="410.2" y="358.44" width="5.8" height="6.4" fill="#0b3041"/>
<rect x="418.8" y="319.8" width="5.8" height="5.8" fill="#e97132"/>
<rect x="418.8" y="333.00" width="5.8" height="6.4" fill="#fbe3d6"/>
<rect x="418.8" y="339.36" width="5.8" height="6.4" fill="#f6c6ad"/>
<rect x="418.8" y="345.72" width="5.8" height="6.4" fill="#f2aa84"/>
<rect x="418.8" y="352.08" width="5.8" height="6.4" fill="#c04f15"/>
<rect x="418.8" y="358.44" width="5.8" height="6.4" fill="#80350e"/>
<rect x="427.4" y="319.8" width="5.8" height="5.8" fill="#196b24"/>
<rect x="427.4" y="333.00" width="5.8" height="6.4" fill="#c2f1c8"/>
<rect x="427.4" y="339.36" width="5.8" height="6.4" fill="#84e291"/>
<rect x="427.4" y="345.72" width="5.8" height="6.4" fill="#47d45a"/>
<rect x="427.4" y="352.08" width="5.8" height="6.4" fill="#13501b"/>
<rect x="427.4" y="358.44" width="5.8" height="6.4" fill="#0d3612"/>
<rect x="436.0" y="319.8" width="5.8" height="5.8" fill="#0f9ed5"/>
<rect x="436.0" y="333.00" width="5.8" height="6.4" fill="#caeefb"/>
<rect x="436.0" y="339.36" width="5.8" height="6.4" fill="#96dcf8"/>
<rect x="436.0" y="345.72" width="5.8" height="6.4" fill="#61cbf4"/>
<rect x="436.0" y="352.08" width="5.8" height="6.4" fill="#0b76a0"/>
<rect x="436.0" y="358.44" width="5.8" height="6.4" fill="#084f6a"/>
<rect x="444.6" y="319.8" width="5.8" height="5.8" fill="#a02b93"/>
<rect x="444.6" y="333.00" width="5.8" height="6.4" fill="#f2cfee"/>
<rect x="444.6" y="339.36" width="5.8" height="6.4" fill="#e59edd"/>
<rect x="444.6" y="345.72" width="5.8" height="6.4" fill="#d86ecc"/>
<rect x="444.6" y="352.08" width="5.8" height="6.4" fill="#78206e"/>
<rect x="444.6" y="358.44" width="5.8" height="6.4" fill="#501649"/>
<rect x="453.2" y="319.8" width="5.8" height="5.8" fill="#4ea72e"/>
<rect x="453.2" y="333.00" width="5.8" height="6.4" fill="#d9f2d0"/>
<rect x="453.2" y="339.36" width="5.8" height="6.4" fill="#b4e5a2"/>
<rect x="453.2" y="345.72" width="5.8" height="6.4" fill="#8ed973"/>
<rect x="453.2" y="352.08" width="5.8" height="6.4" fill="#3b7d23"/>
<rect x="453.2" y="358.44" width="5.8" height="6.4" fill="#275417"/>
<text transform="scale(0.9,1)" x="423.56" y="382.1" class="mh">Standard Colors</text>
<rect x="375.8" y="388" width="5.8" height="6.2" fill="#c00000"/>
<rect x="384.4" y="388" width="5.8" height="6.2" fill="#ff0000"/>
<rect x="393.0" y="388" width="5.8" height="6.2" fill="#ffc000"/>
<rect x="401.6" y="388" width="5.8" height="6.2" fill="#ffff00"/>
<rect x="410.2" y="388" width="5.8" height="6.2" fill="#92d050"/>
<rect x="418.8" y="388" width="5.8" height="6.2" fill="#00b050"/>
<rect x="427.4" y="388" width="5.8" height="6.2" fill="#00b0f0"/>
<rect x="436.0" y="388" width="5.8" height="6.2" fill="#0070c0"/>
<rect x="444.6" y="388" width="5.8" height="6.2" fill="#002060"/>
<rect x="453.2" y="388" width="5.8" height="6.2" fill="#7030a0"/>
<text transform="scale(0.9,1)" x="423.56" y="410.9" class="mh">Recent Colors</text>
<rect x="375.8" y="417.6" width="5.6" height="5.6" fill="#1b1b1b"/>
<rect x="384.6" y="417.6" width="5.8" height="5.6" fill="#f0a500"/>
<rect x="382.3" y="413.6" width="12.4" height="13" fill="none" stroke="#ee4444" stroke-width="1.4"/>
<rect x="380.2" y="433.6" width="7.6" height="7" fill="#fff" stroke="#e4e4e4" stroke-width="0.6"/>
<text transform="scale(0.9,1)" x="436.67" y="439.3" class="mi">No Fill</text>
<rect x="389.2" y="428.6" width="17" height="11.8" rx="1.5" fill="#fff" stroke="#9a9a9a" stroke-width="0.6"/>
<text x="390.9" y="436.9" style="font-size:6.3px;fill:#555">Gold</text>
<text transform="scale(0.9,1)" x="436.44" y="455.3" class="mi">More Fill Colors...</text>
<line x1="392.8" y1="456.1" x2="398.0" y2="456.1" stroke="#333" stroke-width="0.45"/>
<text transform="scale(0.9,1)" x="436.44" y="469.4" class="mi">Picture...</text>
<line x1="392.8" y1="470.2" x2="396.4" y2="470.2" stroke="#333" stroke-width="0.45"/>
<text transform="scale(0.9,1)" x="436.44" y="483.3" class="mi">Gradient</text>
<line x1="392.8" y1="484.1" x2="397.0" y2="484.1" stroke="#333" stroke-width="0.45"/>
<text transform="scale(0.9,1)" x="436.44" y="497.5" class="mi">Texture</text>
<line x1="392.8" y1="498.3" x2="396.4" y2="498.3" stroke="#333" stroke-width="0.45"/>
<path d="M453.8 478.7 L456 480.9 L453.8 483.1" fill="none" stroke="#555" stroke-width="0.7"/>
<path d="M453.8 492.9 L456 495.1 L453.8 497.3" fill="none" stroke="#555" stroke-width="0.7"/>
<g transform="translate(380,448.6)"><path d="M4.3 0.5 C1.5 0.5 0.3 2.7 0.5 4.6 C0.7 6.6 2.4 8 4 7.6 C5 7.3 4.4 6.1 5.1 5.6 C5.9 5.1 7.8 5.9 8.1 4.4 C8.5 2.2 6.6 0.5 4.3 0.5 Z" fill="#fff" stroke="#555" stroke-width="0.6"/><circle cx="2.4" cy="3.1" r="0.8" fill="#e24a3b"/><circle cx="4.3" cy="2" r="0.8" fill="#f2b530"/><circle cx="6.3" cy="2.9" r="0.8" fill="#3b8ad8"/><circle cx="2.4" cy="5.3" r="0.8" fill="#4caf50"/></g>
<g transform="translate(380.2,463)"><rect x="0.3" y="0.3" width="8" height="7" fill="#dbe8f7" stroke="#2b6cb0" stroke-width="0.6"/><path d="M0.6 6.8 L3.2 3.6 L5 5.4 L6.2 4.3 L8 6.8 Z" fill="#2b6cb0"/></g>
<defs><linearGradient id="gg" x1="0" y1="0" x2="1" y2="1"><stop offset="0" stop-color="#fafafa"/><stop offset="1" stop-color="#5a5a5a"/></linearGradient></defs>
<rect x="380.5" y="477.1" width="7.8" height="7.6" fill="url(#gg)" stroke="#666" stroke-width="0.6"/>
<rect x="380.5" y="491.3" width="7.8" height="7.6" fill="#d8e7f7" stroke="#555" stroke-width="0.6"/><path d="M381 498.5 L388 491.8 M383 498.5 L388 493.5 M381.2 495 L384.5 491.8" stroke="#3b8ad8" stroke-width="0.7"/>
</svg>
<div class="a" style="left:565.5px;top:258.6px;width:32.2px;height:15.2px;border:1.4px solid #ee4444"></div>
<div class="a" style="left:371.5px;top:274.7px;width:48px;height:14.6px;border:1.4px solid #ee4444"></div>
</body></html>
